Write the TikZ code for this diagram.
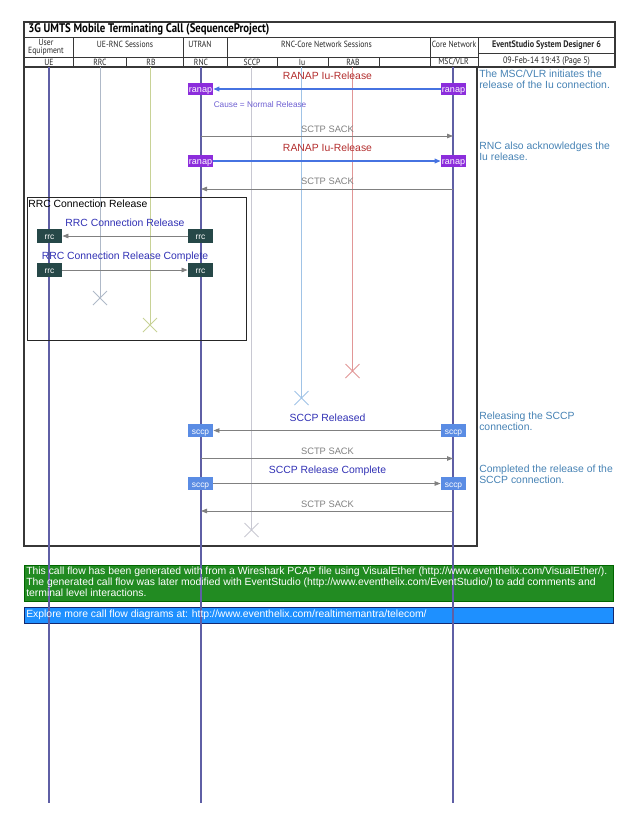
\documentclass[tikz,border=0pt]{standalone}
\usepackage{fontspec}
\setmainfont{Liberation Sans}
\newfontfamily\hdrfont[FakeStretch=0.86]{PT Sans}
\usetikzlibrary{arrows.meta,calc}
\definecolor{lifec}{RGB}{95,95,165}
\definecolor{framec}{RGB}{55,55,55}
\definecolor{ranapc}{RGB}{140,45,220}
\definecolor{rrcc}{RGB}{38,72,72}
\definecolor{sccpc}{RGB}{90,140,228}
\definecolor{bluemsgc}{RGB}{70,115,225}
\definecolor{graymsgc}{RGB}{128,128,128}
\definecolor{redlblc}{RGB}{178,45,45}
\definecolor{bluelblc}{RGB}{48,48,180}
\definecolor{causec}{RGB}{110,95,210}
\definecolor{commc}{RGB}{70,130,180}
\definecolor{rrcline}{RGB}{175,185,200}
\definecolor{rbline}{RGB}{200,210,150}
\definecolor{sccpline}{RGB}{200,200,210}
\definecolor{iuline}{RGB}{160,195,230}
\definecolor{rabline}{RGB}{225,150,150}
\definecolor{greenbox}{RGB}{34,139,34}
\definecolor{bluebox}{RGB}{30,144,255}
\begin{document}
\begin{tikzpicture}[x=0.75pt,y=-0.75pt,
  hdr/.style={font=\hdrfont\fontsize{6.7}{8}\selectfont, inner sep=0, text=black!85},
  hline/.style={draw=framec, line width=0.7pt},
  lifeline/.style={draw=lifec, line width=0.95pt},
  msglbl/.style={font=\fontsize{7.8}{9}\selectfont, inner sep=0},
  sacklbl/.style={font=\fontsize{7}{8}\selectfont, inner sep=0, text=graymsgc},
  comm/.style={font=\fontsize{7.8}{8}\selectfont, inner sep=0, anchor=north west, text=commc, align=left},
  bluemsg/.style={draw=bluemsgc, line width=0.8pt, -{Triangle[length=4.5pt,width=3.6pt]}},
  graymsg/.style={draw=graymsgc, line width=0.6pt, -{Triangle[length=4.5pt,width=3.4pt]}},
  boxbase/.style={text=white, minimum width=19pt, inner sep=0, text height=1.3ex, text depth=0.25ex},
  ranapbox/.style={boxbase, fill=ranapc, minimum height=8.5pt, font=\fontsize{6.8}{7}\selectfont},
  rrcbox/.style={boxbase, fill=rrcc, minimum height=10pt, font=\fontsize{6.3}{7}\selectfont},
  sccpbox/.style={boxbase, fill=sccpc, minimum height=9.8pt, font=\fontsize{6.3}{7}\selectfont},
  xmark/.style={line width=0.6pt}
]
\useasboundingbox (0,0) rectangle (638,826);

% ---------- header ----------
\draw[hline, line width=1pt] (24,22) rectangle (615,67);
\draw[hline] (24,37) -- (615,37);
\draw[hline] (24,57.5) -- (478,57.5);
\draw[hline] (478,53) -- (615,53);
\foreach \xx in {73,183,227,430,478} \draw[hline] (\xx,37) -- (\xx,67);
\foreach \xx in {126,277,328,379} \draw[hline] (\xx,57.5) -- (\xx,67);

\node[anchor=west, font=\hdrfont\bfseries\fontsize{9.4}{10}\selectfont, inner sep=0] (title) at (28,29.5) {3G UMTS Mobile Terminating Call (SequenceProject)};
\node[hdr, align=center, font=\hdrfont\fontsize{6.7}{6.2}\selectfont] (h-ue) at (46,47.5) {User\\Equipment};
\node[hdr] (h-uernc) at (125,44) {UE-RNC Sessions};
\node[hdr] (h-utran) at (200,44) {UTRAN};
\node[hdr] (h-core) at (326.5,44) {RNC-Core Network Sessions};
\node[hdr] (h-corenet) at (454,44) {Core Network};
\node[hdr, font=\hdrfont\bfseries\fontsize{7.1}{8}\selectfont] (h-es) at (546.5,45.5) {EventStudio System Designer 6};
\node[hdr, font=\hdrfont\fontsize{7}{8}\selectfont] (h-date) at (546.5,61) {09-Feb-14 19:43 (Page 5)};
\node[hdr] (c-ue) at (49,62.3) {UE};
\node[hdr] (c-rrc) at (100,62.3) {RRC};
\node[hdr] (c-rb) at (151,62.3) {RB};
\node[hdr] (c-rnc) at (201,62.3) {RNC};
\node[hdr] (c-sccp) at (252,62.3) {SCCP};
\node[hdr] (c-iu) at (302,62.3) {Iu};
\node[hdr] (c-rab) at (353,62.3) {RAB};
\node[hdr] (c-msc) at (453.5,62.3) {MSC/VLR};

% ---------- footer boxes ----------
\node[anchor=north west, fill=greenbox, draw=green!40!black, line width=0.4pt, minimum width=441.75pt, minimum height=27pt, inner sep=0] (green) at (24,565) {};
\node[anchor=north west, fill=bluebox, draw={rgb,255:red,20;green,40;blue,110}, line width=0.6pt, minimum width=441.75pt, minimum height=12pt, inner sep=0] (blue) at (24,607) {};

% ---------- frame ----------
\draw[draw=framec, line width=1.1pt] (24,67) -- (24,546) -- (477,546) -- (477,67);

% ---------- lifelines ----------
\coordinate (ue-t) at (49,67);   \coordinate (ue-b) at (49,803);
\coordinate (rnc-t) at (201,67); \coordinate (rnc-b) at (201,803);
\coordinate (msc-t) at (453,67); \coordinate (msc-b) at (453,803);
\coordinate (rrc-t) at (100,67); \coordinate (rrc-x) at (100,298);
\coordinate (rb-t) at (150,67);  \coordinate (rb-x) at (150,325);
\coordinate (sccp-t) at (251.5,67); \coordinate (sccp-x) at (251.5,530);
\coordinate (iu-t) at (301.5,67); \coordinate (iu-x) at (301.5,398);
\coordinate (rab-t) at (352.5,67); \coordinate (rab-x) at (352.5,371);

\draw[draw=rrcline, line width=0.6pt] (rrc-t) -- (rrc-x);
\draw[draw=rbline, line width=0.6pt] (rb-t) -- (rb-x);
\draw[draw=sccpline, line width=0.6pt] (sccp-t) -- (sccp-x);
\draw[draw=iuline, line width=0.6pt] (iu-t) -- (iu-x);
\draw[draw=rabline, line width=0.6pt] (rab-t) -- (rab-x);
\foreach \pt/\cc in {rrc-x/rrcline, rb-x/rbline, sccp-x/sccpline, iu-x/iuline, rab-x/rabline}{
  \draw[xmark, draw=\cc] ($(\pt)+(-7,-7)$) -- ($(\pt)+(7,7)$) ($(\pt)+(-7,7)$) -- ($(\pt)+(7,-7)$);
}
\draw[lifeline] (ue-t) -- (ue-b);
\draw[lifeline] (rnc-t) -- (rnc-b);
\draw[lifeline] (msc-t) -- (msc-b);

% ---------- footer text ----------
\node[anchor=north west, text=white, font=\fontsize{7.8}{8.25}\selectfont, align=left, inner sep=0] (greentext) at (26,567) {This call flow has been generated with from a Wireshark PCAP file using VisualEther (http://www.eventhelix.com/VisualEther/).\\The generated call flow was later modified with EventStudio (http://www.eventhelix.com/EventStudio/) to add comments and\\terminal level interactions.};
\node[anchor=west, text=white, font=\fontsize{7.8}{8.25}\selectfont, inner sep=0] (bluetext) at (26,615) {Explore more call flow diagrams at: http://www.eventhelix.com/realtimemantra/telecom/};

% ---------- messages ----------
\node[msglbl, text=redlblc] (l1) at (327.5,76) {RANAP Iu-Release};
\node[ranapbox] (r1a) at (200.5,89) {ranap};
\node[ranapbox] (r1b) at (453.5,89) {ranap};
\draw[bluemsg] (r1b) -- (r1a);
\node[anchor=west, inner sep=0, text=causec, font=\fontsize{6.2}{7}\selectfont] (cause) at (213.5,104.5) {Cause = Normal Release};
\node[comm] (cm1) at (479,70) {The MSC/VLR initiates the\\release of the Iu connection.};

\node[sacklbl] (s1l) at (327.5,129) {SCTP SACK};
\coordinate (s1a) at (201,136); \coordinate (s1b) at (453,136);
\draw[graymsg] (s1a) -- (s1b);

\node[msglbl, text=redlblc] (l2) at (327.5,147.5) {RANAP Iu-Release};
\node[ranapbox] (r2a) at (200.5,161) {ranap};
\node[ranapbox] (r2b) at (453.5,161) {ranap};
\draw[bluemsg] (r2a) -- (r2b);
\node[comm] (cm2) at (479,142) {RNC also acknowledges the\\Iu release.};

\node[sacklbl] (s2l) at (327.5,181.5) {SCTP SACK};
\coordinate (s2a) at (453,189); \coordinate (s2b) at (201,189);
\draw[graymsg] (s2a) -- (s2b);

% ---------- RRC box ----------
\draw[draw=black!85, line width=0.75pt] (27,197) rectangle (246,340);
\node[anchor=west, inner sep=0, font=\fontsize{7.8}{9}\selectfont] (boxtitle) at (28,203.5) {RRC Connection Release};
\node[msglbl, text=bluelblc] (l3) at (125,222.5) {RRC Connection Release};
\node[rrcbox] (k1a) at (49.5,236) {rrc};
\node[rrcbox] (k1b) at (200.5,236) {rrc};
\draw[graymsg] (k1b) -- (k1a);
\node[msglbl, text=bluelblc] (l4) at (125,256.5) {RRC Connection Release Complete};
\node[rrcbox] (k2a) at (49.5,270) {rrc};
\node[rrcbox] (k2b) at (200.5,270) {rrc};
\draw[graymsg] (k2a) -- (k2b);

% ---------- SCCP ----------
\node[msglbl, text=bluelblc] (l5) at (327.5,417.5) {SCCP Released};
\node[sccpbox] (c1a) at (200.5,430.5) {sccp};
\node[sccpbox] (c1b) at (453.5,430.5) {sccp};
\draw[graymsg] (c1b) -- (c1a);
\node[comm] (cm3) at (479,412) {Releasing the SCCP\\connection.};

\node[sacklbl] (s3l) at (327.5,451.5) {SCTP SACK};
\coordinate (s3a) at (201,458.5); \coordinate (s3b) at (453,458.5);
\draw[graymsg] (s3a) -- (s3b);

\node[msglbl, text=bluelblc] (l6) at (327.5,470.5) {SCCP Release Complete};
\node[sccpbox] (c2a) at (200.5,483.5) {sccp};
\node[sccpbox] (c2b) at (453.5,483.5) {sccp};
\draw[graymsg] (c2a) -- (c2b);
\node[comm] (cm4) at (479,465) {Completed the release of the\\SCCP connection.};

\node[sacklbl] (s4l) at (327.5,504) {SCTP SACK};
\coordinate (s4a) at (453,511); \coordinate (s4b) at (201,511);
\draw[graymsg] (s4a) -- (s4b);

\end{tikzpicture}
\end{document}
